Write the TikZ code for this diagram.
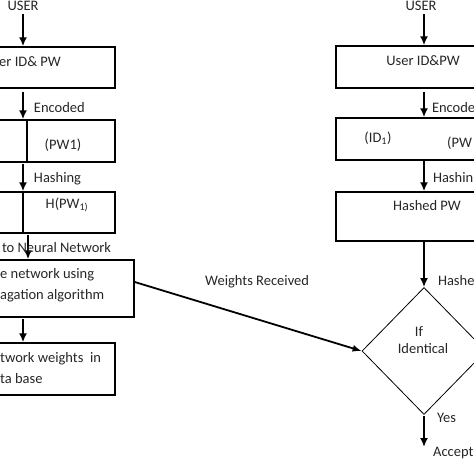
\documentclass[tikz,border=0pt]{standalone}
\usepackage{fontspec}
\setmainfont{Carlito}
\usetikzlibrary{arrows.meta,shapes.geometric}
\begin{document}
\begin{tikzpicture}[x=1pt,y=-1pt,
		box/.style={draw,line width=1.4pt,inner sep=0pt},
		arr/.style={line width=2pt,-{Latex[length=9pt,width=8pt]}},
		txt/.style={inner sep=0pt,text=black!85,font=\fontsize{14.5}{17}\selectfont}]
	\useasboundingbox (0,0) rectangle (474,474);
	\clip (0,0) rectangle (474,474);
	% left column
	\node[txt] (usrL) at (23,6) {USER};
	\node[box,minimum width=184pt,minimum height=41pt] (idL) at (23,67.5) {};
	\node[box,minimum width=184pt,minimum height=42pt] (encL) at (23,141) {};
	\node[box,minimum width=184pt,minimum height=41pt] (hshL) at (23,212.5) {};
	\node[box,minimum width=222pt,minimum height=57pt] (trn) at (23,288.5) {};
	\node[box,minimum width=184pt,minimum height=52pt] (sto) at (23,369) {};
	\draw[line width=1.2pt] ([xshift=4pt]encL.north) -- ([xshift=4pt]encL.south);
	\draw[line width=1.2pt] (hshL.north) -- (hshL.south);
	\node[txt,anchor=west] (tidL) at (-1,62) {er ID\& PW};
	\node[txt] (tpwL) at (63,145) {(PW1)};
	\node[txt] (thL) at (67,205) {H(PW\textsubscript{1)}};
	\node[txt,anchor=west] (ttrA) at (0,275) {e network using};
	\node[txt,anchor=west] (ttrB) at (0,296) {agation algorithm};
	\node[txt,anchor=west] (tstA) at (0,359) {twork weights\ \ in};
	\node[txt,anchor=west] (tstB) at (0,379) {ta base};
	\draw[arr,shorten <=3pt] (usrL.south) -- (idL.north);
	\draw[arr,shorten <=3pt] (idL.south) -- (encL.north) node[txt,midway,anchor=west,xshift=10pt,yshift=-4pt] (lenL) {Encoded};
	\draw[arr,shorten <=1pt] (encL.south) -- (hshL.north) node[txt,midway,anchor=west,xshift=10pt,yshift=-2pt] (lhsL) {Hashing};
	\draw[arr,shorten <=1pt] ([xshift=5pt]hshL.south) -- ([xshift=5pt]trn.north) node[txt,midway,anchor=west,xshift=-27pt,yshift=-1pt] (lnn) {to Neural Network};
	\draw[arr,shorten <=1pt] (trn.south) -- (sto.north);
	% right column
	\node[txt] (usrR) at (421,6) {USER};
	\node[box,minimum width=176pt,minimum height=42pt] (idR) at (424,67) {};
	\node[box,minimum width=176pt,minimum height=42pt] (encR) at (424,139) {};
	\node[box,minimum width=176pt,minimum height=49pt] (hshR) at (424,216.5) {};
	\node[draw,diamond,line width=0.8pt,inner sep=0pt,minimum width=124pt,minimum height=127pt] (cmp) at (424,351) {};
	\coordinate (acc) at (424,447);
	\node[txt] (tidR) at (423,61) {User ID\&PW};
	\node[txt] (tid1) at (378,138) {(ID\textsubscript{1})};
	\node[txt,anchor=west] (tpwR) at (447,143) {(PW};
	\node[txt] (thsR) at (427,206) {Hashed PW};
	\node[txt] (tif) at (419,332) {If};
	\node[txt] (tidn) at (423,349) {Identical};
	\draw[arr,shorten <=3pt] (usrR.south -| idR.north) -- (idR.north);
	\draw[arr,shorten <=3pt] (idR.south) -- (encR.north) node[txt,midway,anchor=west,xshift=7pt,yshift=-5pt] (lenR) {Encode};
	\draw[arr] (encR.south) -- (hshR.north) node[txt,midway,anchor=west,xshift=8pt,yshift=-2pt] (lhsR) {Hashin};
	\draw[arr] (hshR.south) -- (cmp.north) node[txt,pos=0.85,anchor=west,xshift=13pt] (lhdR) {Hashe};
	\draw[arr,shorten <=1pt] (cmp.south) -- (acc);
	\node[txt,anchor=west] (tyes) at (437,418) {Yes};
	\node[txt,anchor=west] (tacc) at (433,453) {Accept};
	% weights
	\draw[arr,line width=1.8pt,-{Latex[length=9pt,width=7pt]}] ([yshift=6.5pt]trn.east) -- (cmp.west);
	\node[txt,anchor=west] (lwts) at (205,282) {Weights Received};
\end{tikzpicture}
\end{document}
